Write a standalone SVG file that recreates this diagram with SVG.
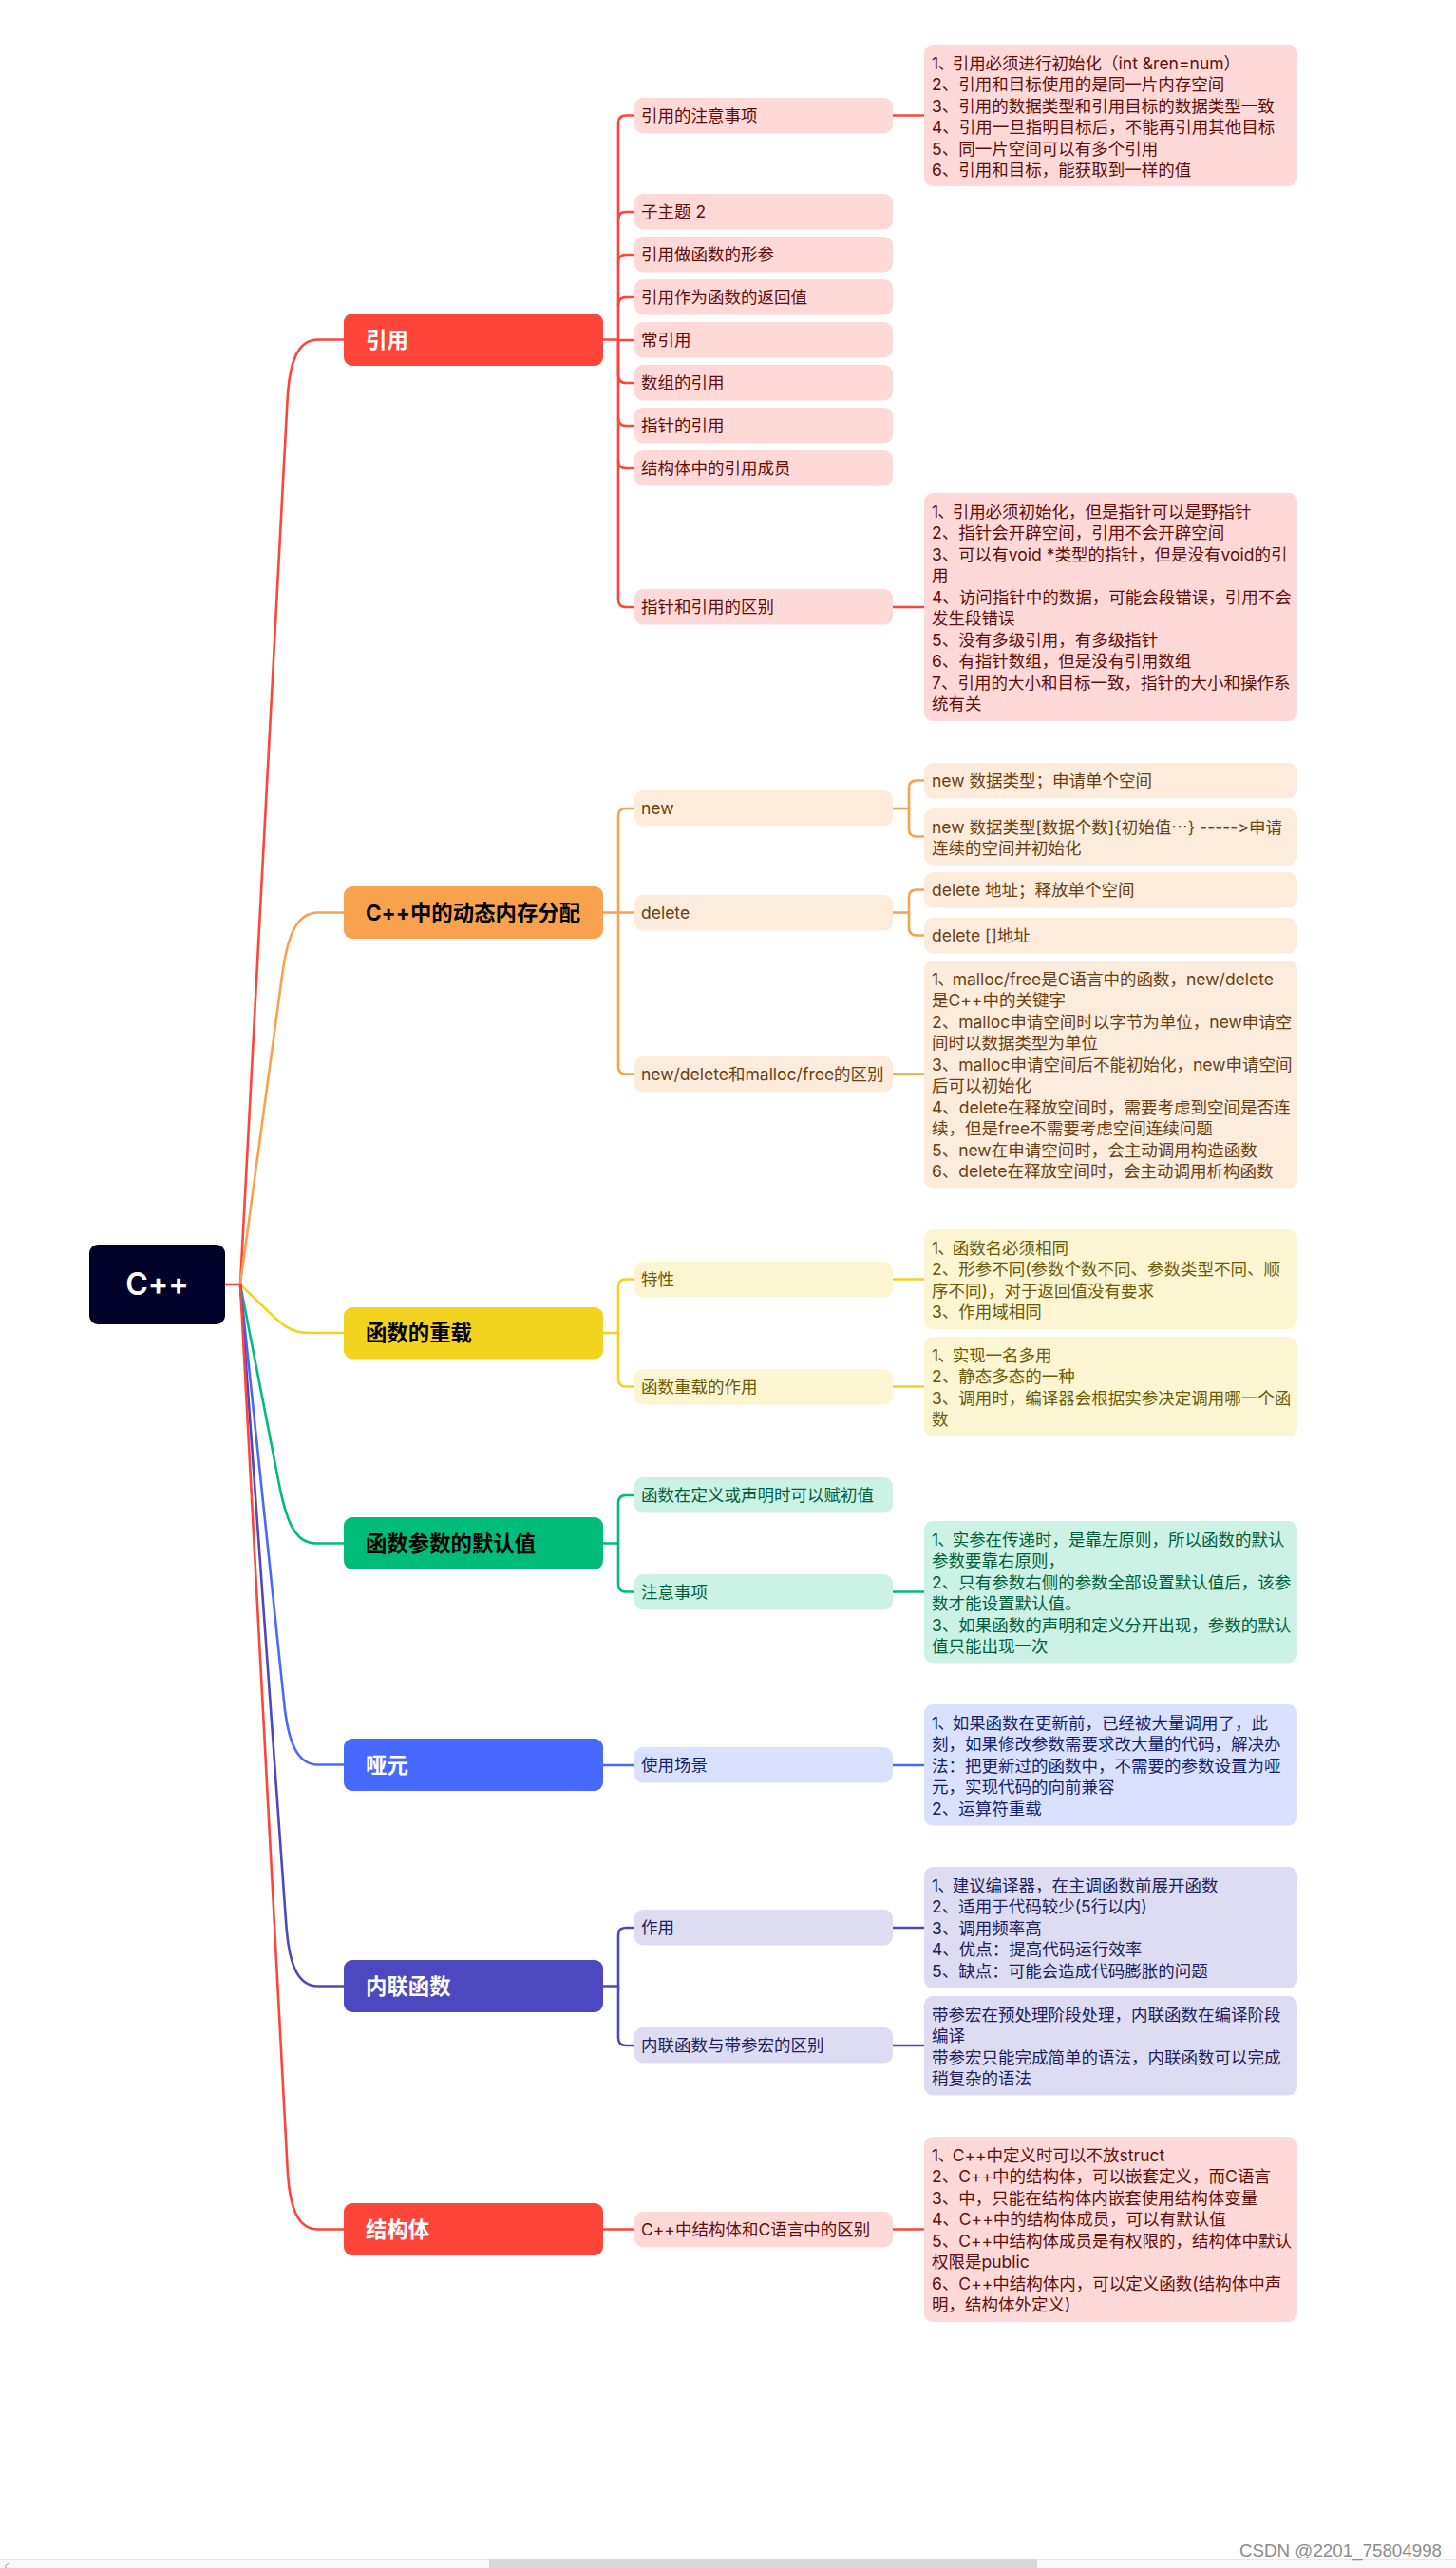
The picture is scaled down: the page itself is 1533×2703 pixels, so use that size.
<svg xmlns="http://www.w3.org/2000/svg" width="1533" height="2703" viewBox="0 0 1533 2703">
<style>
text{font-family:Inter,"Noto Sans CJK SC","Noto Sans",sans-serif;white-space:pre;font-variant-ligatures:none;font-feature-settings:"calt" 0,"liga" 0}
.c{fill:none;stroke-width:2.6;stroke-linecap:round}
.l{font-size:17.5px}
.m{font-size:22.4px;font-weight:700}
.j{font-family:"Noto Sans CJK SC",sans-serif}
.red rect.b,.red2 rect.b{fill:#FFD9D7}.red text.l{fill:#5F0F0A}
.org rect.b{fill:#FDEBDC}.org text.l{fill:#6A3F12}
.yel rect.b{fill:#FCF5D1}.yel text.l{fill:#6B5A08}
.grn rect.b{fill:#CCF2E5}.grn text.l{fill:#00603E}
.blu rect.b{fill:#DAE1FF}.blu text.l{fill:#141F6E}
.ind rect.b{fill:#DEDCF2}.ind text.l{fill:#201E5E}
.cr{stroke:#FF443A}.co{stroke:#F8A24D}.cy{stroke:#F2D31F}.cg{stroke:#00BC7B}.cb{stroke:#4869FF}.ci{stroke:#4D48C0}
</style>
<rect width="1533" height="2703" fill="#fff"/>
<g id="connectors">
<path class="c cr" d="M237 1352H253"/>
<path class="c cr" d="M253 1352L302.5 422.5C304.6 383.5 312 357.5 335 357.5H362"/>
<path class="c co" d="M253 1352L297.3 1025C302.5 986 312 960.5 335 960.5H362"/>
<path class="c cy" d="M253 1352L279.5 1377.5C295.4 1392.8 305 1403 325 1403H362"/>
<path class="c cg" d="M253 1352L293.6 1560.7C301 1599 310 1624.5 332 1624.5H362"/>
<path class="c cb" d="M253 1352L299.2 1792.8C303.3 1831.6 312 1857.5 335 1857.5H362"/>
<path class="c ci" d="M253 1352L301.3 2025.7C304.1 2064.6 312 2090.5 335 2090.5H362"/>
<path class="c cr" d="M253 1352L302.6 2281.6C304.6 2320.6 312 2346.5 335 2346.5H362"/>

<path class="c cr" d="M635 357.5H651V129.5Q651 121.5 659 121.5H668"/>
<path class="c cr" d="M651 231Q651 223 659 223H668"/>
<path class="c cr" d="M651 276Q651 268 659 268H668"/>
<path class="c cr" d="M651 321Q651 313 659 313H668"/>
<path class="c cr" d="M651 358H668"/>
<path class="c cr" d="M651 357.5V395Q651 403 659 403H668"/>
<path class="c cr" d="M651 440Q651 448 659 448H668"/>
<path class="c cr" d="M651 485Q651 493 659 493H668"/>
<path class="c cr" d="M651 357.5V631Q651 639 659 639H668"/>
<path class="c cr" d="M940 121.5H973"/>
<path class="c cr" d="M940 639H973"/>

<path class="c co" d="M635 960.5H668"/>
<path class="c co" d="M651 960.5V859Q651 851 659 851H668"/>
<path class="c co" d="M651 960.5V1122.5Q651 1130.5 659 1130.5H668"/>
<path class="c co" d="M940 851H957V829.5Q957 821.5 965 821.5H973"/>
<path class="c co" d="M957 851V872.5Q957 880.5 965 880.5H973"/>
<path class="c co" d="M940 960.5H957V944.5Q957 936.5 965 936.5H973"/>
<path class="c co" d="M957 960.5V976.5Q957 984.5 965 984.5H973"/>
<path class="c co" d="M940 1130.5H973"/>

<path class="c cy" d="M635 1403H651V1354.5Q651 1346.5 659 1346.5H668"/>
<path class="c cy" d="M651 1403V1451.5Q651 1459.5 659 1459.5H668"/>
<path class="c cy" d="M940 1346.5H973"/>
<path class="c cy" d="M940 1459.5H973"/>

<path class="c cg" d="M635 1624.5H651V1582Q651 1574 659 1574H668"/>
<path class="c cg" d="M651 1624.5V1667.5Q651 1675.5 659 1675.5H668"/>
<path class="c cg" d="M940 1675.5H973"/>

<path class="c cb" d="M635 1858H668"/>
<path class="c cb" d="M940 1858H973"/>

<path class="c ci" d="M635 2090.5H651V2037Q651 2029 659 2029H668"/>
<path class="c ci" d="M651 2090.5V2145Q651 2153 659 2153H668"/>
<path class="c ci" d="M940 2029H973"/>
<path class="c ci" d="M940 2153H973"/>

<path class="c cr" d="M635 2346.5H668"/>
<path class="c cr" d="M940 2346.5H973"/>
</g>

<g id="root"><rect x="94" y="1310" width="143" height="84" rx="9" fill="#000229"/><text x="165.5" y="1363" text-anchor="middle" font-size="32" font-weight="600" fill="#fff">C++</text></g>

<g id="main-1"><rect x="362" y="330" width="273" height="55" rx="9" fill="#FF443A"/><text class="m" x="385" y="365.5" fill="#fff">引用</text></g>
<g id="main-2"><rect x="362" y="933" width="273" height="55" rx="9" fill="#F8A24D"/><text class="m" x="385" y="968.5" fill="#000">C++中的动态内存分配</text></g>
<g id="main-3"><rect x="362" y="1376" width="273" height="54.5" rx="9" fill="#F2D31F"/><text class="m" x="385" y="1411" fill="#000">函数的重载</text></g>
<g id="main-4"><rect x="362" y="1597" width="273" height="55" rx="9" fill="#00BC7B"/><text class="m" x="385" y="1632.5" fill="#000">函数参数的默认值</text></g>
<g id="main-5"><rect x="362" y="1830" width="273" height="55" rx="9" fill="#4869FF"/><text class="m" x="385" y="1865.5" fill="#fff">哑元</text></g>
<g id="main-6"><rect x="362" y="2063" width="273" height="55" rx="9" fill="#4D48C0"/><text class="m" x="385" y="2098.5" fill="#fff">内联函数</text></g>
<g id="main-7"><rect x="362" y="2319" width="273" height="55" rx="9" fill="#FF443A"/><text class="m" x="385" y="2354.5" fill="#fff">结构体</text></g>

<g class="red">
<g id="n-r1"><rect class="b" x="668" y="103" width="272" height="37.5" rx="9"/><text class="l" x="675" y="127.5">引用的注意事项</text></g>
<g id="n-r1a"><rect class="b" x="973" y="47" width="393" height="149" rx="9"/><text class="l" x="981" y="72.5">1<tspan dx="-1 -2">、引</tspan>用必须进行初始化（int &amp;ren=num）<tspan x="981" dy="22.5">2、引用和目标使用的是同一片内存空间</tspan><tspan x="981" dy="22.5">3、引用的数据类型和引用目标的数据类型一致</tspan><tspan x="981" dy="22.5">4、引用一旦指明目标后，不能再引用其他目标</tspan><tspan x="981" dy="22.5">5、同一片空间可以有多个引用</tspan><tspan x="981" dy="22.5">6、引用和目标，能获取到一样的值</tspan></text></g>
<g id="n-r2"><rect class="b" x="668" y="204" width="272" height="37.5" rx="9"/><text class="l" x="675" y="229">子主题 2</text></g>
<g id="n-r3"><rect class="b" x="668" y="249" width="272" height="37.5" rx="9"/><text class="l" x="675" y="274">引用做函数的形参</text></g>
<g id="n-r4"><rect class="b" x="668" y="294" width="272" height="37.5" rx="9"/><text class="l" x="675" y="319">引用作为函数的返回值</text></g>
<g id="n-r5"><rect class="b" x="668" y="339" width="272" height="37.5" rx="9"/><text class="l" x="675" y="364">常引用</text></g>
<g id="n-r6"><rect class="b" x="668" y="384" width="272" height="37.5" rx="9"/><text class="l" x="675" y="409">数组的引用</text></g>
<g id="n-r7"><rect class="b" x="668" y="429" width="272" height="37.5" rx="9"/><text class="l" x="675" y="454">指针的引用</text></g>
<g id="n-r8"><rect class="b" x="668" y="474" width="272" height="37.5" rx="9"/><text class="l" x="675" y="499">结构体中的引用成员</text></g>
<g id="n-r9"><rect class="b" x="668" y="620" width="272" height="37.5" rx="9"/><text class="l" x="675" y="645">指针和引用的区别</text></g>
<g id="n-r9a"><rect class="b" x="973" y="519" width="393" height="240" rx="9"/><text class="l" x="981" y="544.5">1<tspan dx="-1 -2">、引</tspan>用必须初始化，但是指针可以是野指针<tspan x="981" dy="22.5">2、指针会开辟空间，引用不会开辟空间</tspan><tspan x="981" dy="22.5">3、可以有void *类型的指针，但是没有void的引</tspan><tspan x="981" dy="22.5">用</tspan><tspan x="981" dy="22.5">4、访问指针中的数据，可能会段错误，引用不会</tspan><tspan x="981" dy="22.5">发生段错误</tspan><tspan x="981" dy="22.5">5、没有多级引用，有多级指针</tspan><tspan x="981" dy="22.5">6、有指针数组，但是没有引用数组</tspan><tspan x="981" dy="22.5">7、引用的大小和目标一致，指针的大小和操作系</tspan><tspan x="981" dy="22.5">统有关</tspan></text></g>
</g>

<g class="org">
<g id="n-o1"><rect class="b" x="668" y="832" width="272" height="37.5" rx="9"/><text class="l" x="675" y="857">new</text></g>
<g id="n-o1a"><rect class="b" x="973" y="803" width="393" height="37.5" rx="9"/><text class="l" x="981" y="828">new 数据类型；申请单个空间</text></g>
<g id="n-o1b"><rect class="b" x="973" y="851" width="393" height="59.5" rx="9"/><text class="l" x="981" y="876.5">new 数据类型[数据个数]{初始值<tspan class="j">…</tspan>} -----&gt;申请<tspan x="981" dy="22.5">连续的空间并初始化</tspan></text></g>
<g id="n-o2"><rect class="b" x="668" y="942" width="272" height="37.5" rx="9"/><text class="l" x="675" y="967">delete</text></g>
<g id="n-o2a"><rect class="b" x="973" y="918" width="393" height="37.5" rx="9"/><text class="l" x="981" y="943">delete 地址；释放单个空间</text></g>
<g id="n-o2b"><rect class="b" x="973" y="966" width="393" height="37.5" rx="9"/><text class="l" x="981" y="991">delete []地址</text></g>
<g id="n-o3"><rect class="b" x="668" y="1112" width="272" height="37.5" rx="9"/><text class="l" x="675" y="1137">new/delete和malloc/free的区别</text></g>
<g id="n-o3a"><rect class="b" x="973" y="1011" width="393" height="239.5" rx="9"/><text class="l" x="981" y="1036.5">1<tspan dx="-1 -2">、m</tspan>alloc/free是C语言中的函数，new/delete<tspan x="981" dy="22.5">是C++中的关键字</tspan><tspan x="981" dy="22.5">2、malloc申请空间时以字节为单位，new申请空</tspan><tspan x="981" dy="22.5">间时以数据类型为单位</tspan><tspan x="981" dy="22.5">3、malloc申请空间后不能初始化，new申请空间</tspan><tspan x="981" dy="22.5">后可以初始化</tspan><tspan x="981" dy="22.5">4、delete在释放空间时，需要考虑到空间是否连</tspan><tspan x="981" dy="22.5">续，但是free不需要考虑空间连续问题</tspan><tspan x="981" dy="22.5">5、new在申请空间时，会主动调用构造函数</tspan><tspan x="981" dy="22.5">6、delete在释放空间时，会主动调用析构函数</tspan></text></g>
</g>

<g class="yel">
<g id="n-y1"><rect class="b" x="668" y="1328" width="272" height="37.5" rx="9"/><text class="l" x="675" y="1353">特性</text></g>
<g id="n-y1a"><rect class="b" x="973" y="1294" width="393" height="105" rx="9"/><text class="l" x="981" y="1319.5">1<tspan dx="-1 -2">、函</tspan>数名必须相同<tspan x="981" dy="22.5">2、形参不同(参数个数不同、参数类型不同、顺</tspan><tspan x="981" dy="22.5">序不同)，对于返回值没有要求</tspan><tspan x="981" dy="22.5">3、作用域相同</tspan></text></g>
<g id="n-y2"><rect class="b" x="668" y="1441" width="272" height="37.5" rx="9"/><text class="l" x="675" y="1466">函数重载的作用</text></g>
<g id="n-y2a"><rect class="b" x="973" y="1407" width="393" height="105" rx="9"/><text class="l" x="981" y="1432.5">1<tspan dx="-1 -2">、实</tspan>现一名多用<tspan x="981" dy="22.5">2、静态多态的一种</tspan><tspan x="981" dy="22.5">3、调用时，编译器会根据实参决定调用哪一个函</tspan><tspan x="981" dy="22.5">数</tspan></text></g>
</g>

<g class="grn">
<g id="n-g1"><rect class="b" x="668" y="1555" width="272" height="37.5" rx="9"/><text class="l" x="675" y="1580">函数在定义或声明时可以赋初值</text></g>
<g id="n-g2"><rect class="b" x="668" y="1657" width="272" height="37.5" rx="9"/><text class="l" x="675" y="1682">注意事项</text></g>
<g id="n-g2a"><rect class="b" x="973" y="1601" width="393" height="149.5" rx="9"/><text class="l" x="981" y="1626.5">1<tspan dx="-1 -2">、实</tspan>参在传递时，是靠左原则，所以函数的默认<tspan x="981" dy="22.5">参数要靠右原则，</tspan><tspan x="981" dy="22.5">2、只有参数右侧的参数全部设置默认值后，该参</tspan><tspan x="981" dy="22.5">数才能设置默认值。</tspan><tspan x="981" dy="22.5">3、如果函数的声明和定义分开出现，参数的默认</tspan><tspan x="981" dy="22.5">值只能出现一次</tspan></text></g>
</g>

<g class="blu">
<g id="n-b1"><rect class="b" x="668" y="1839" width="272" height="37.5" rx="9"/><text class="l" x="675" y="1864">使用场景</text></g>
<g id="n-b1a"><rect class="b" x="973" y="1794" width="393" height="127.5" rx="9"/><text class="l" x="981" y="1819.5">1<tspan dx="-1 -2">、如</tspan>果函数在更新前，已经被大量调用了，此<tspan x="981" dy="22.5">刻，如果修改参数需要求改大量的代码，解决办</tspan><tspan x="981" dy="22.5">法：把更新过的函数中，不需要的参数设置为哑</tspan><tspan x="981" dy="22.5">元，实现代码的向前兼容</tspan><tspan x="981" dy="22.5">2、运算符重载</tspan></text></g>
</g>

<g class="ind">
<g id="n-i1"><rect class="b" x="668" y="2010" width="272" height="37.5" rx="9"/><text class="l" x="675" y="2035">作用</text></g>
<g id="n-i1a"><rect class="b" x="973" y="1965" width="393" height="128" rx="9"/><text class="l" x="981" y="1990.5">1<tspan dx="-1 -2">、建</tspan>议编译器，在主调函数前展开函数<tspan x="981" dy="22.5">2、适用于代码较少(5行以内)</tspan><tspan x="981" dy="22.5">3、调用频率高</tspan><tspan x="981" dy="22.5">4、优点：提高代码运行效率</tspan><tspan x="981" dy="22.5">5、缺点：可能会造成代码膨胀的问题</tspan></text></g>
<g id="n-i2"><rect class="b" x="668" y="2134" width="272" height="37.5" rx="9"/><text class="l" x="675" y="2159">内联函数与带参宏的区别</text></g>
<g id="n-i2a"><rect class="b" x="973" y="2101" width="393" height="104.5" rx="9"/><text class="l" x="981" y="2126.5">带参宏在预处理阶段处理，内联函数在编译阶段<tspan x="981" dy="22.5">编译</tspan><tspan x="981" dy="22.5">带参宏只能完成简单的语法，内联函数可以完成</tspan><tspan x="981" dy="22.5">稍复杂的语法</tspan></text></g>
</g>

<g class="red">
<g id="n-s1"><rect class="b" x="668" y="2328" width="272" height="37.5" rx="9"/><text class="l" x="675" y="2353">C++中结构体和C语言中的区别</text></g>
<g id="n-s1a"><rect class="b" x="973" y="2249" width="393" height="195" rx="9"/><text class="l" x="981" y="2274.5">1<tspan dx="-1 -2">、C</tspan>++中定义时可以不放struct<tspan x="981" dy="22.5">2、C++中的结构体，可以嵌套定义，而C语言</tspan><tspan x="981" dy="22.5">3、中，只能在结构体内嵌套使用结构体变量</tspan><tspan x="981" dy="22.5">4、C++中的结构体成员，可以有默认值</tspan><tspan x="981" dy="22.5">5、C++中结构体成员是有权限的，结构体中默认</tspan><tspan x="981" dy="22.5">权限是public</tspan><tspan x="981" dy="22.5">6、C++中结构体内，可以定义函数(结构体中声</tspan><tspan x="981" dy="22.5">明，结构体外定义)</tspan></text></g>
</g>

<rect x="0" y="2694" width="1533" height="9" fill="#F9F9F9"/>
<rect x="0" y="2694" width="1533" height="1" fill="#E6E6E6"/>
<rect x="515" y="2694" width="577" height="9" fill="#D8D8D8"/>
<path d="M9 2698L5 2701.5L7 2703" fill="none" stroke="#9A9A9A" stroke-width="1"/>
<text x="1305" y="2691" font-size="18" fill="#8C8C8C" textLength="213" lengthAdjust="spacingAndGlyphs" style="font-family:'Liberation Sans',sans-serif">CSDN @2201_75804998</text>
</svg>
